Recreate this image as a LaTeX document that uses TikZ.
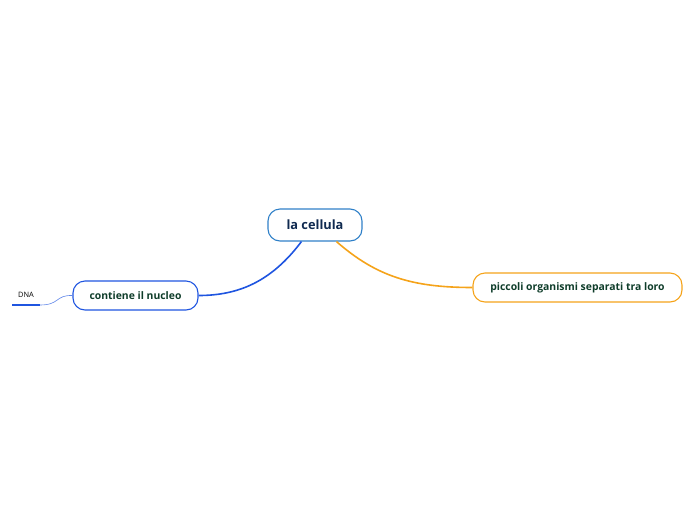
\documentclass[tikz,border=0pt]{standalone}
\usepackage{fontspec}
\setmainfont{Open Sans}
\begin{document}
\begin{tikzpicture}[x=1pt,y=-1pt,
  box/.style={draw,rounded corners=12pt,line width=1.1pt,inner sep=0pt,font=\bfseries},
  link/.style={line width=1.6pt}]
\useasboundingbox (0,0) rectangle (696,520);
\definecolor{cblue}{HTML}{2F80C8}
\definecolor{lblue}{HTML}{1F55E0}
\definecolor{orng}{HTML}{F5A31A}
\definecolor{navy}{HTML}{102A50}
\definecolor{dgreen}{HTML}{0F3D2A}
\node[box,draw=cblue,text=navy,minimum width=94pt,minimum height=32pt,font=\bfseries\fontsize{12.8}{14}\selectfont] (root) at (315,225) {la cellula};
\node[box,draw=lblue,text=dgreen,minimum width=125pt,minimum height=29pt,font=\bfseries\fontsize{10.4}{12}\selectfont] (left) at (135.5,295.5) {contiene il nucleo};
\node[box,draw=orng,text=dgreen,minimum width=209pt,minimum height=29pt,font=\bfseries\fontsize{10.4}{12}\selectfont] (right) at (577.5,287.5) {piccoli organismi separati tra loro};
\node[font=\fontsize{7.4}{9}\selectfont,text=black,inner sep=0pt] (dna) at (26,295) {DNA};
\coordinate (dnaL) at (12,305);
\coordinate (dnaR) at (40,305);
\draw[lblue,line width=1.8pt] (dnaL) -- (dnaR);
\draw[lblue!70,line width=0.6pt] (dnaR) .. controls (60,305) and (55,295) .. (left.west);
\draw[lblue,link] (root.south west)++(34,0) coordinate (rs) .. controls +(-30,40) and +(40,0) .. (left.east);
\draw[orng,link] (root.south west)++(69,0) coordinate (ro) .. controls +(40,35) and +(-60,0) .. (right.west);
\end{tikzpicture}
\end{document}
